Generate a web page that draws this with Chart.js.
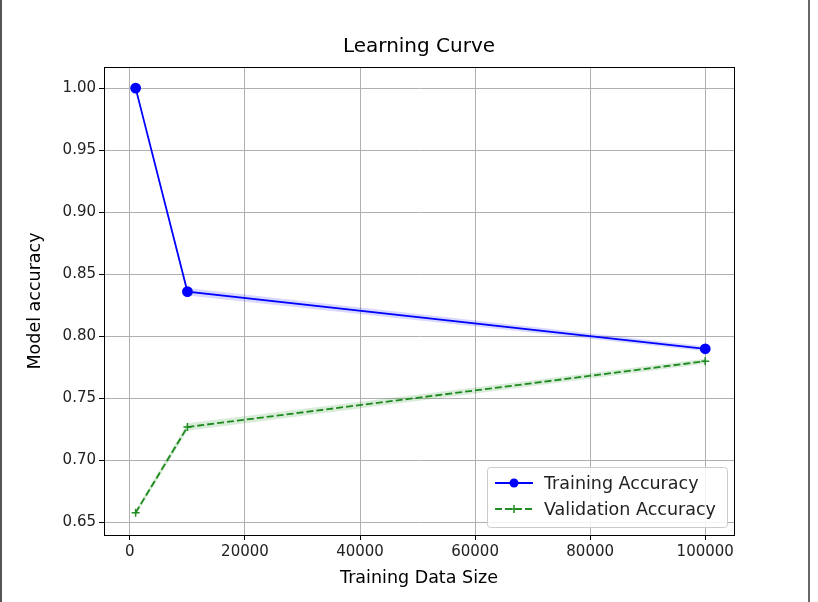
<!DOCTYPE html>
<html><head><meta charset="utf-8">
<script src="https://cdn.jsdelivr.net/npm/chart.js@4.4.0/dist/chart.umd.min.js"></script>
<style>html,body{margin:0;padding:0;background:#fff;overflow:hidden}
#wrap{position:relative;width:818px;height:602px}
#l{position:absolute;left:0;top:0;width:2px;height:602px;background:#555}
#r{position:absolute;left:808px;top:0;width:2px;height:602px;background:#666}
</style></head><body>
<div id="wrap"><canvas id="c" width="818" height="602"></canvas><div id="l"></div><div id="r"></div></div>
<script>
const sizes=[1000,10000,100000];
const trainAcc=[1.0,0.836,0.790];
const trainStd=[0.0,0.003,0.002];
const valAcc=[0.658,0.727,0.780];
const valStd=[0.002,0.003,0.002];
const xTicks=[0,20000,40000,60000,80000,100000];
const yTicks=[0.65,0.70,0.75,0.80,0.85,0.90,0.95,1.00];
const FONT='DejaVu Sans';
const pts=(a,f)=>sizes.map((x,i)=>({x,y:f(a[i],i)}));
const ds=[
 {label:'_tu',data:pts(trainAcc,(v,i)=>v+trainStd[i]),borderWidth:0,pointRadius:0,fill:'+1',backgroundColor:'rgba(0,0,255,0.15)'},
 {label:'_tl',data:pts(trainAcc,(v,i)=>v-trainStd[i]),borderWidth:0,pointRadius:0,fill:false},
 {label:'_vu',data:pts(valAcc,(v,i)=>v+valStd[i]),borderWidth:0,pointRadius:0,fill:'+1',backgroundColor:'rgba(0,128,0,0.15)'},
 {label:'_vl',data:pts(valAcc,(v,i)=>v-valStd[i]),borderWidth:0,pointRadius:0,fill:false},
 {label:'Training Accuracy',data:pts(trainAcc,v=>v),borderColor:'#0000ff',backgroundColor:'#0000ff',borderWidth:1.8,pointRadius:4.5,pointStyle:'circle',fill:false},
 {label:'Validation Accuracy',data:pts(valAcc,v=>v),borderColor:'#228b22',backgroundColor:'#228b22',borderWidth:1.8,borderDash:[7,3],pointRadius:4,pointStyle:'cross',pointBorderWidth:1.5,fill:false}
];
const deco={id:'deco',afterDraw(ch){
 const c=ch.ctx,a=ch.chartArea;c.save();
 c.strokeStyle='#000';c.lineWidth=1;c.strokeRect(Math.round(a.left)+0.5,Math.round(a.top)+0.5,Math.round(a.right-a.left),Math.round(a.bottom-a.top));
 c.fillStyle='#000';c.textAlign='center';c.textBaseline='middle';
 c.font='20px '+FONT;c.fillText('Learning Curve',(a.left+a.right)/2,47);
 c.font='17.5px '+FONT;c.fillText('Training Data Size',(a.left+a.right)/2,578);
 c.translate(35,(a.top+a.bottom)/2);c.rotate(-Math.PI/2);c.fillText('Model accuracy',0,0);c.restore();
 c.save();const lx=487,ly=467,lw=240,lh=60;
 c.fillStyle='rgba(255,255,255,0.85)';c.strokeStyle='#ccc';c.lineWidth=1;
 c.beginPath();c.roundRect(lx+0.5,ly+0.5,lw,lh,3);c.fill();c.stroke();
 const items=ch.data.datasets.filter(d=>!d.label.startsWith('_'));
 items.forEach((d,i)=>{const y=ly+16+i*26;c.strokeStyle=d.borderColor;c.lineWidth=1.8;c.setLineDash(d.borderDash||[]);
  c.beginPath();c.moveTo(lx+8,y);c.lineTo(lx+46,y);c.stroke();c.setLineDash([]);
  if(d.pointStyle==='circle'){c.fillStyle=d.backgroundColor;c.beginPath();c.arc(lx+27,y,4.5,0,7);c.fill();}
  else{c.lineWidth=1.5;c.beginPath();c.moveTo(lx+23,y);c.lineTo(lx+31,y);c.moveTo(lx+27,y-4);c.lineTo(lx+27,y+4);c.stroke();}
  c.fillStyle='#222';c.font='17.5px '+FONT;c.textAlign='left';c.textBaseline='middle';c.fillText(d.label,lx+57,y+1);});
 c.restore();}};
new Chart(document.getElementById('c'),{type:'line',data:{datasets:ds},plugins:[deco],
options:{responsive:false,animation:false,layout:{padding:{top:67,right:84,left:0,bottom:0}},
 plugins:{legend:{display:false},tooltip:{enabled:false},title:{display:false}},
 scales:{
  x:{type:'linear',min:-4500,max:105000,afterFit(s){s.height=67},
   afterBuildTicks(s){s.ticks=xTicks.map(v=>({value:v}))},
   ticks:{color:'#222',font:{family:FONT,size:15},maxRotation:0,callback:v=>String(v)},
   grid:{color:'#b0b0b0',lineWidth:1,tickLength:5,tickColor:'#000'},border:{color:'#000',width:1}},
  y:{min:0.640,max:1.017,afterFit(s){s.width=104},
   afterBuildTicks(s){s.ticks=yTicks.map(v=>({value:v}))},
   ticks:{color:'#222',font:{family:FONT,size:15},callback:v=>Number(v).toFixed(2)},
   grid:{color:'#b0b0b0',lineWidth:1,tickLength:5,tickColor:'#000'},border:{color:'#000',width:1}}
 }}});
</script></body></html>
